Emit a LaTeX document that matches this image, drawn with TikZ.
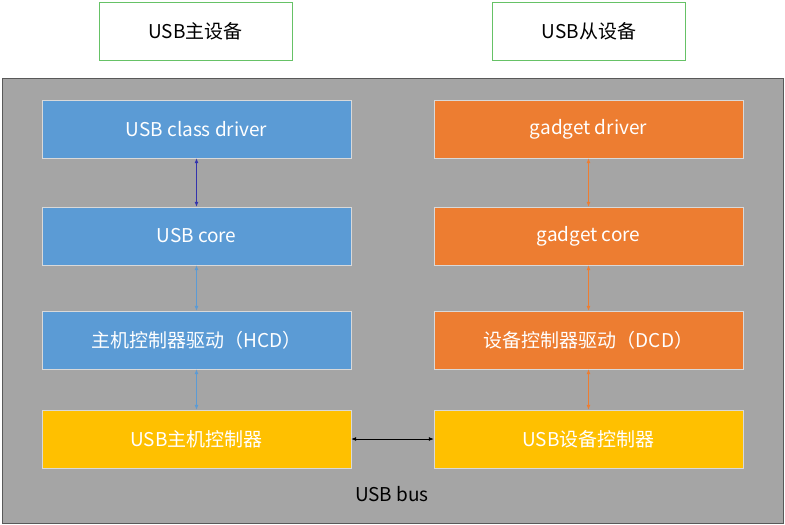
\documentclass[tikz,border=0pt]{standalone}
\usepackage{fontspec}
\setmainfont{Noto Sans CJK SC}
\usetikzlibrary{positioning,arrows.meta}
\definecolor{hostblue}{HTML}{5B9BD5}
\definecolor{devorange}{HTML}{ED7D31}
\definecolor{ctrlyellow}{HTML}{FFC000}
\definecolor{bggray}{HTML}{A5A5A5}
\tikzset{
	layer/.style={draw=white!85!black, minimum width=309pt, minimum height=58pt, inner sep=0pt, text=white, font=\fontsize{19}{22}\selectfont},
	host/.style={layer, fill=hostblue},
	dev/.style={layer, fill=devorange},
	ctrl/.style={layer, fill=ctrlyellow},
	title/.style={draw=green!60!black!60, fill=white, minimum width=193pt, minimum height=58pt, font=\fontsize{19}{22}\selectfont},
	link/.style={{Latex[length=5pt,width=4pt]}-{Latex[length=5pt,width=4pt]}, thick}
}
\begin{document}
\begin{tikzpicture}[x=1pt,y=-1pt]
	\useasboundingbox (0,0) rectangle (785,525);
	% background
	\fill[bggray] (2,78) rectangle (783,523);
	\draw[gray!70!black] (2,78) rectangle (783,523);

	% titles
	\node[title] (hosttitle) at (195.5,31) {USB主设备};
	\node[title] (devtitle) at (589,31) {USB从设备};

	% host side
	\node[host] (classdrv) at (196.5,129) {USB class driver};
	\node[host] (usbcore) at (196.5,236) {USB core};
	\node[host] (hcd) at (196.5,340) {主机控制器驱动（HCD）};
	\node[ctrl] (hostctrl) at (196.5,439) {USB主机控制器};

	% device side
	\node[dev] (gadgetdrv) at (588.5,129) {gadget driver};
	\node[dev] (gadgetcore) at (588.5,236) {gadget core};
	\node[dev] (dcd) at (588.5,340) {设备控制器驱动（DCD）};
	\node[ctrl] (devctrl) at (588.5,439) {USB设备控制器};

	% links
	\draw[link, blue!60!black!80] (classdrv) -- (usbcore);
	\draw[link, hostblue] (usbcore) -- (hcd);
	\draw[link, hostblue] (hcd) -- (hostctrl);
	\draw[link, devorange] (gadgetdrv) -- (gadgetcore);
	\draw[link, devorange] (gadgetcore) -- (dcd);
	\draw[link, devorange] (dcd) -- (devctrl);
	\draw[link, black] (hostctrl) -- (devctrl);

	\node[font=\fontsize{19}{22}\selectfont] (bus) at (392,494) {USB bus};
\end{tikzpicture}
\end{document}
